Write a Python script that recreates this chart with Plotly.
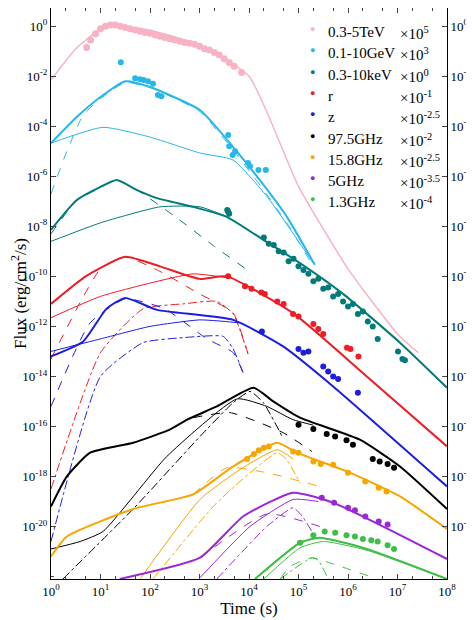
import plotly.graph_objects as go

# model curves: (log10 t, log10 flux)
TEV_T = [0, 0.5, 1.0, 1.2, 2.0, 3.0, 4.0, 5.0, 6.0, 7.0, 7.42]
TEV_F = [-2.15, -0.9, -0.1, 0.04, -0.16, -0.76, -2.0, -6.4, -9.7, -12.3, -13.05]
TEV_DT = [0.72, 0.8, 0.9, 1.0, 1.1, 1.2, 1.3, 1.4, 1.5, 1.6, 1.7, 1.8, 1.9, 2.0, 2.1, 2.2, 2.3, 2.4, 2.5,
          2.6, 2.7, 2.8, 2.9, 3.0, 3.1, 3.2, 3.3, 3.4, 3.5, 3.6, 3.7, 3.85]
TEV_DF = [-0.85, -0.55, -0.3, -0.1, 0.0, 0.05, 0.05, 0.0, -0.05, -0.1, -0.15, -0.2, -0.25, -0.28, -0.35, -0.4,
          -0.45, -0.5, -0.55, -0.6, -0.65, -0.68, -0.72, -0.8, -0.9, -0.95, -1.05, -1.15, -1.3, -1.45, -1.6, -1.85]

GEV = {
    "thick": ([0, 0.52, 1.0, 1.5, 2.0, 3.01, 3.68, 4.22, 4.76, 5.33],
              [-4.67, -3.63, -2.83, -2.2, -2.43, -3.35, -4.83, -6.15, -7.6, -9.54]),
    "thin": ([0, 1.05, 2.0, 3.01, 3.68, 4.36, 5.3],
             [-4.67, -4.04, -4.43, -5.07, -5.35, -6.8, -9.47]),
    "dash": ([0, 0.32, 0.65, 1.0, 1.5, 2.0, 3.0, 3.68, 4.22, 4.76, 5.3],
             [-6.7, -5.0, -3.55, -2.9, -2.25, -2.45, -3.4, -4.95, -6.35, -7.85, -9.6]),
}
GEV_DT = [1.41, 1.70, 1.80, 1.87, 1.96, 2.06, 2.16, 2.23, 3.58, 3.60, 3.67, 3.72, 3.98, 4.02, 4.19, 4.34]
GEV_DF = [-1.44, -2.08, -2.12, -2.15, -2.2, -2.3, -2.75, -2.8, -4.35, -4.8, -5.15, -5.0, -5.47, -5.6, -5.75, -5.75]

KEV = {
    "thick": ([0, 0.52, 1.0, 1.33, 1.74, 2.14, 2.87, 3.55, 4.29, 5.03, 5.9, 7.05, 8.0],
              [-8.14, -6.95, -6.42, -6.15, -6.55, -6.87, -7.22, -7.62, -8.54, -9.47, -10.7, -12.65, -14.45]),
    "thin": ([0, 1.0, 2.2, 3.01, 3.6],
             [-8.6, -7.86, -7.22, -7.22, -7.65]),
    "dash": ([0, 0.5, 1.0, 1.33, 1.74, 2.5, 3.3, 4.02],
             [-8.3, -7.0, -6.45, -6.15, -6.55, -7.6, -8.8, -9.82]),
}
KEV_DT = [3.56, 3.58, 3.6, 4.3, 4.4, 4.5, 4.6, 4.7, 4.8, 4.9, 5.0, 5.1, 5.2, 5.3, 5.4, 5.5, 5.6, 5.7, 5.8, 5.9,
          6.0, 6.1, 6.2, 6.3, 6.4, 6.5, 6.6, 7.01, 7.1, 7.15]
KEV_DF = [-7.35, -7.42, -7.5, -8.45, -8.7, -8.75, -9.0, -9.05, -9.4, -9.3, -9.6, -9.75, -9.9, -10.2, -10.1,
          -10.5, -10.45, -10.8, -10.7, -11.0, -11.2, -11.1, -11.5, -11.4, -11.8, -12.0, -12.5, -13.0, -13.3, -13.35]

RBAND = {
    "thick": ([0, 0.7, 1.5, 2.2, 3.0, 3.55, 4.89, 6.38, 8.0],
              [-11.1, -10.0, -9.22, -9.6, -10.1, -10.0, -11.47, -14.0, -16.8]),
    "thin": ([0, 1.0, 2.0, 2.87, 3.55],
             [-11.65, -10.8, -10.27, -9.9, -10.05]),
    "dash": ([0, 0.6, 1.0, 1.5, 2.2, 3.0, 3.68, 3.98],
             [-13.3, -11.0, -9.7, -9.22, -9.8, -10.7, -11.46, -13.1]),
    "dashdot": ([0, 1.0, 1.86, 2.67, 3.35, 3.68, 3.98],
                [-18.5, -13.05, -11.3, -11.1, -11.0, -11.5, -13.1]),
}
R_DT = [3.58, 3.92, 4.05, 4.25, 4.32, 4.57, 4.7, 4.89, 5.0, 5.3, 5.4, 5.5, 5.98, 6.05, 6.21]
R_DF = [-10.0, -10.4, -10.5, -10.65, -10.7, -11.0, -11.1, -11.5, -11.6, -11.9, -12.1, -12.3, -12.85, -12.9, -13.2]

ZBAND = {
    "thick": ([0, 0.65, 1.12, 1.5, 2.14, 3.68, 4.69, 5.7, 8.0],
              [-13.2, -12.6, -11.3, -10.86, -11.34, -11.74, -12.8, -14.4, -18.4]),
    "thin": ([0, 1.0, 2.0, 3.01, 3.82],
             [-13.0, -12.5, -12.0, -11.74, -11.86]),
    "dash": ([0, 0.79, 1.5, 2.3, 3.15, 3.68, 3.88],
             [-15.2, -11.86, -10.9, -11.3, -12.5, -13.05, -13.85]),
    "dashdot": ([0, 1.0, 1.86, 2.67, 3.48, 3.68, 3.88],
                [-20.6, -14.0, -12.65, -12.45, -12.4, -12.9, -13.85]),
}
Z_DT = [4.26, 5.0, 5.1, 5.2, 5.5, 5.6, 5.7, 5.8, 6.2]
Z_DF = [-12.2, -12.9, -13.05, -13.0, -13.6, -13.8, -14.0, -14.1, -14.65]

B97 = {
    "thick": ([0, 0.32, 0.79, 1.66, 2.4, 2.75, 3.35, 4.09, 4.49, 5.03, 6.24, 7.05, 8.0],
              [-19.2, -18.0, -17.05, -16.65, -16.13, -15.73, -15.2, -14.45, -15.0, -15.65, -16.53, -17.6, -19.3]),
    "thin": ([0, 0.59, 1.05, 2.34, 3.76, 4.36, 4.89, 5.3],
             [-20.9, -20.6, -20.2, -17.2, -14.9, -15.2, -15.73, -15.95]),
    "dash": ([2.87, 3.62, 4.69, 5.27],
             [-15.65, -15.45, -16.25, -17.0]),
    "dashdot": ([0.24, 1.66, 3.01, 3.68, 4.02, 4.29, 4.67],
                [-22.1, -19.3, -16.4, -15.05, -14.6, -15.05, -16.4]),
}
B97_DT = [5.0, 5.3, 5.57, 5.74, 5.97, 6.1, 6.5, 6.64, 6.8, 6.93]
B97_DF = [-15.93, -16.1, -16.3, -16.4, -16.55, -16.73, -17.3, -17.4, -17.5, -17.65]

B158 = {
    "thick": ([0, 0.32, 1.66, 2.87, 3.68, 4.57, 4.97, 6.04, 7.05, 8.0],
              [-21.2, -20.4, -19.3, -18.72, -17.6, -16.65, -17.05, -17.85, -18.8, -20.1]),
    "thin": ([1.8, 3.01, 3.82, 4.57, 4.89],
             [-22.1, -18.92, -17.72, -16.93, -17.3]),
    "dash": ([2.87, 3.55, 4.36, 5.43],
             [-18.72, -17.65, -17.85, -18.4]),
    "dashdot": ([2.06, 3.35, 4.57, 4.76, 5.03],
                [-22.1, -19.05, -17.05, -17.33, -18.25]),
}
B158_DT = [3.96, 4.1, 4.2, 4.3, 4.4, 4.89, 5.0, 5.3, 5.45, 5.7, 6.0, 6.35, 6.62, 6.78]
B158_DF = [-17.3, -17.1, -16.95, -16.85, -16.8, -17.0, -17.05, -17.4, -17.5, -17.53, -17.85, -18.2, -18.45, -18.6]

B5 = {
    "thick": ([1.39, 3.01, 3.88, 4.89, 5.7, 8.0],
              [-22.1, -21.25, -19.6, -18.65, -19.05, -21.3]),
    "thin": ([3.01, 4.02, 4.89, 5.4],
             [-22.05, -20.0, -18.92, -19.0]),
    "dash": ([3.01, 4.36, 5.43],
             [-21.25, -19.5, -20.0]),
    "dashdot": ([3.35, 4.36, 4.89, 5.08, 5.27],
                [-22.1, -20.0, -19.25, -19.6, -20.2]),
}
B5_DT = [5.47, 5.72, 6.0, 6.14, 6.35, 6.62, 6.8]
B5_DF = [-18.85, -19.05, -19.25, -19.35, -19.6, -19.8, -19.92]

B13 = {
    "thick": ([4.12, 5.03, 5.43, 6.38, 8.0],
              [-22.1, -20.65, -20.45, -20.9, -22.1]),
    "thin": ([4.3, 5.03, 5.5, 6.38, 8.0],
             [-22.1, -20.85, -20.6, -20.95, -22.1]),
    "dash": ([4.63, 4.83, 5.27, 5.7, 6.45],
             [-22.1, -21.6, -21.25, -21.5, -22.0]),
    "dashdot": ([4.63, 5.27, 5.4, 5.6],
                [-22.1, -21.25, -21.35, -22.1]),
}
B13_DT = [5.03, 5.3, 5.53, 5.74, 5.97, 6.14, 6.3, 6.47, 6.6, 6.8, 6.93]
B13_DF = [-20.65, -20.35, -20.2, -20.25, -20.35, -20.4, -20.5, -20.55, -20.6, -20.75, -20.9]

BANDS = [
    ("0.3-5TeV", "5", "#f7b3c2"),
    ("0.1-10GeV", "3", "#25b6ea"),
    ("0.3-10keV", "0", "#007b7a"),
    ("r", "-1", "#ee1c25"),
    ("z", "-2.5", "#1d1de0"),
    ("97.5GHz", "-2", "#000000"),
    ("15.8GHz", "-2.5", "#f7a600"),
    ("5GHz", "-3.5", "#9b27d6"),
    ("1.3GHz", "-4", "#3dbf45"),
]

fig = go.Figure()


def add_line(lt, lf, color, width=1.0, dash="solid"):
    fig.add_trace(go.Scatter(x=[10 ** v for v in lt], y=[10 ** v for v in lf], mode="lines",
                             line=dict(color=color, width=width, dash=dash, shape="spline", smoothing=0.5),
                             showlegend=False, hoverinfo="skip"))


def add_points(lt, lf, color, size=6):
    fig.add_trace(go.Scatter(x=[10 ** v for v in lt], y=[10 ** v for v in lf], mode="markers",
                             marker=dict(color=color, size=size), showlegend=False, hoverinfo="skip"))


add_line(TEV_T, TEV_F, BANDS[0][2], 1.5)
add_points(TEV_DT, TEV_DF, BANDS[0][2], 7)

models = [GEV, KEV, RBAND, ZBAND, B97, B158, B5, B13]
points = [(GEV_DT, GEV_DF), (KEV_DT, KEV_DF), (R_DT, R_DF), (Z_DT, Z_DF), (B97_DT, B97_DF),
          (B158_DT, B158_DF), (B5_DT, B5_DF), (B13_DT, B13_DF)]
for (name, mult, color), mdl, pts in zip(BANDS[1:], models, points):
    for key, (lt, lf) in mdl.items():
        if key == "thick":
            add_line(lt, lf, color, 2.0)
        elif key == "thin":
            add_line(lt, lf, color, 1.0)
        elif key == "dash":
            add_line(lt, lf, color, 1.0, "dash")
        else:
            add_line(lt, lf, color, 1.0, "dashdot")
    add_points(pts[0], pts[1], color, 6)

# legend drawn as text
for i, (name, mult, color) in enumerate(BANDS):
    y = 1 - (14 + 21.3 * i) / 571
    fig.add_annotation(x=0.66, y=y, xref="paper", yref="paper", text="●", showarrow=False,
                       font=dict(color=color, size=9))
    fig.add_annotation(x=0.695, y=y, xref="paper", yref="paper", text=name, showarrow=False, xanchor="left",
                       font=dict(size=15))
    fig.add_annotation(x=0.875, y=y, xref="paper", yref="paper", text=f"×10<sup>{mult}</sup>",
                       showarrow=False, xanchor="left", font=dict(size=15))

yvals = [10 ** v for v in range(0, -21, -2)]
ytext = [f"10<sup>{v}</sup>" for v in range(0, -21, -2)]
xvals = [10 ** v for v in range(0, 9)]
xtext = [f"10<sup>{v}</sup>" for v in range(0, 9)]
yrange = [-22.1, 0.73]

axis_common = dict(showline=True, linecolor="black", linewidth=1, ticks="inside", ticklen=5,
                   showgrid=False, zeroline=False, tickfont=dict(size=13), automargin=False)
fig.update_layout(
    width=474, height=620,
    margin=dict(l=43, r=35, t=0, b=49),
    plot_bgcolor="white", paper_bgcolor="white",
    font=dict(family="Liberation Serif", color="black"),
    showlegend=False,
    xaxis=dict(type="log", range=[0, 8], tickvals=xvals, ticktext=xtext, mirror="ticks",
               title=dict(text="Time (s)", font=dict(size=17), standoff=4),
               minor=dict(ticks="inside", ticklen=3, showgrid=False), **axis_common),
    yaxis=dict(type="log", range=yrange, tickvals=yvals, ticktext=ytext,
               title=dict(text="Flux (erg/cm<sup>2</sup>/s)", font=dict(size=17), standoff=2),
               minor=dict(ticks="inside", ticklen=3, showgrid=False), **axis_common),
    yaxis2=dict(type="log", range=yrange, tickvals=yvals, ticktext=ytext, overlaying="y", side="right",
                **axis_common),
)
fig.add_trace(go.Scatter(x=[1], y=[1e-30], yaxis="y2", mode="markers", showlegend=False, hoverinfo="skip"))
fig.write_html("out.html")
